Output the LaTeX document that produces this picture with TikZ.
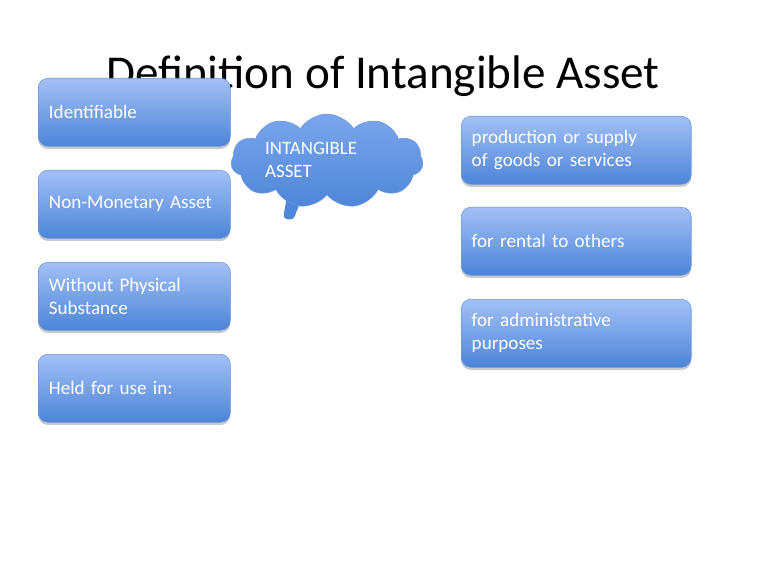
\documentclass[tikz,border=0pt]{standalone}
\usepackage{fontspec}
\setmainfont{Carlito}
\usetikzlibrary{shapes.symbols,shadows}
\definecolor{boxtop}{HTML}{A2C0F6}
\definecolor{boxbot}{HTML}{4C84D8}
\definecolor{boxline}{HTML}{6E98DC}
\definecolor{cloudtop}{HTML}{7AA6EC}
\definecolor{cloudbot}{HTML}{4F86D9}
\tikzset{
  px/.style={x=0.9375pt,y=-0.9375pt},
  infobox/.style={rounded corners=9pt, draw=boxline, line width=0.5pt,
    top color=boxtop, bottom color=boxbot,
    drop shadow={shadow xshift=0pt, shadow yshift=-2.5pt, opacity=0.35, fill=black!60},
    minimum width=180pt, minimum height=63.75pt, anchor=north west,
    text=white, font=\fontsize{17.9}{21.6}\selectfont, align=left,
    text width=160pt, inner xsep=9.5pt},
  rbox/.style={infobox, minimum width=215.6pt, text width=196pt},
  cloudbox/.style={cloud, cloud puffs=11, cloud puff arc=115, aspect=2.1,
    draw=boxline, line width=0.5pt, top color=cloudtop, bottom color=cloudbot,
    minimum width=180pt, minimum height=88pt, inner sep=0pt}
}
\begin{document}
\begin{tikzpicture}[px]
\useasboundingbox (0,0) rectangle (768,576);
\node[font=\fontsize{44.2}{50}\selectfont, anchor=base] (title) at (383,89) {Definition of Intangible Asset};
% left column
\node[infobox] (b1) at (38,78) {Identifiable};
\node[infobox] (b2) at (38,170) {Non-Monetary Asset};
\node[infobox] (b3) at (38,262) {Without Physical\\Substance};
\node[infobox] (b4) at (38,354) {Held for use in:};
% right column
\node[rbox] (r1) at (461,116) {production or supply\\of goods or services};
\node[rbox] (r2) at (461,207) {for rental to others};
\node[rbox] (r3) at (461,299) {for administrative\\purposes};
% cloud tail
\fill[cloudbot] (286,194) .. controls (291,195) and (299,195) .. (301,198)
  .. controls (299,208) and (296,211) .. (295,216)
  .. controls (294,220) and (286,221) .. (284,217)
  .. controls (283,212) and (287,205) .. (286,194) -- cycle;
% cloud
\node[cloudbox] (cl) at (327,161) {};
\node[anchor=base west, text=white, font=\fontsize{17.7}{21.6}\selectfont, align=left, inner sep=0pt] (ct) at (265,178) {INTANGIBLE\\ASSET};
\end{tikzpicture}
\end{document}
